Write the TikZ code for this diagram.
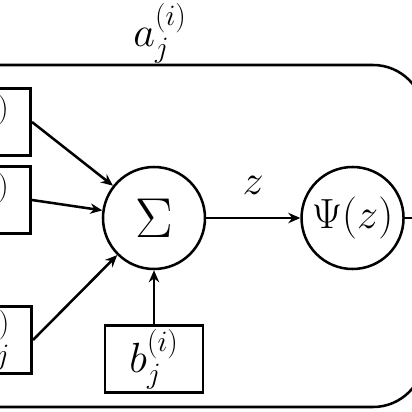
\RequirePackage{fix-cm}
\documentclass[tikz,border=0pt]{standalone}
\usepackage{amsmath}
\usetikzlibrary{positioning}
\usetikzlibrary{calc}
\usetikzlibrary{arrows.meta}
\tikzset{
    % A sturdy arrow tip to go with the heavy lines
    >={Stealth[length=3mm, width=2.6mm]},
%
    % Boxes holding the inputs and the bias
    value box/.style={draw, line width=1.8pt, minimum width=24.5mm,
        minimum height=16.75mm, inner sep=0},
%
    % Round nodes for the sum and the activation
    unit circle/.style={draw, circle, line width=1.8pt, minimum size=25.5mm,
        inner sep=0}}

\begin{document}
\begin{tikzpicture}[x=0.25mm, y=-0.25mm,
    link/.style={line width=1.8pt, ->}]
\fontsize{30}{36}\selectfont

\useasboundingbox (0,0) rectangle (412,412);
\clip (0,0) rectangle (412,412);

% The neuron frame, running off the page on both sides
\draw[line width=1.8pt, rounded corners=12.75mm] (-80,65) rectangle (424,407);
\node at (160,33) (act label) {$a_j^{(i)}$};

% Summing unit and activation
\node[unit circle, font=\fontsize{40}{48}\selectfont] at (154,218) (sum)
    {$\Sigma$};
\node[unit circle, right=23.5mm of sum] (psi) {$\Psi(z)$};

% Inputs and bias
\node[value box, anchor=east] at (32,122) (in one) {$x_1^{(i)}$};
\node[value box, anchor=east] at (32,200) (in two) {$x_2^{(i)}$};
\node[value box, anchor=east] at (33,340) (in last) {$x_{nj}^{(i)}$};
\node[value box, below=13.5mm of sum] (bias) {$b_j^{(i)}$};

\draw[link] (in one.east) -- (sum);
\draw[link] (in two.east) -- (sum);
\draw[link] (in last.east) -- (sum);
\draw[link] (bias) -- (sum);

\draw[link] (sum) -- (psi) node[midway, above=2mm] (z label) {$z$};
\coordinate (out) at (440,218);
\draw[link] (psi) -- (out);
\end{tikzpicture}
\end{document}
